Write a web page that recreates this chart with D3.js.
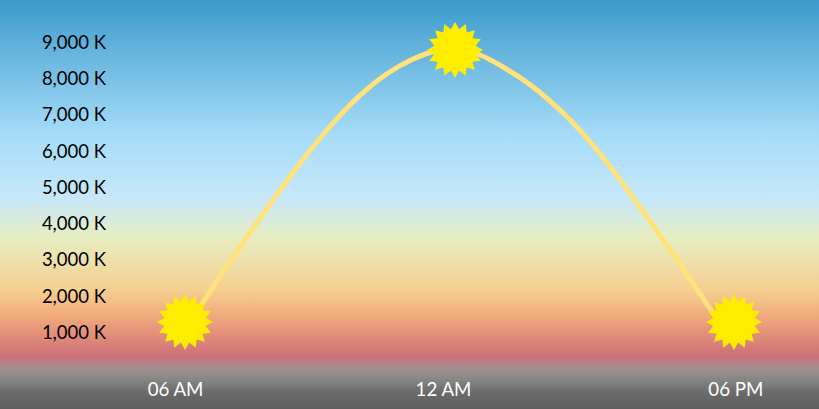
<!DOCTYPE html>
<html><head><meta charset="utf-8">
<script src="https://cdn.jsdelivr.net/npm/d3@7/dist/d3.min.js"></script>
<style>html,body{margin:0;padding:0;background:#fff}svg{display:block}text{font-family:Lato,sans-serif}</style>
</head><body><svg id="c" width="819" height="409"></svg>
<script>
const yTicks=[1000,2000,3000,4000,5000,6000,7000,8000,9000];
const xTickHours=[5.79,11.744,18.04];
const xTickLabels=["06 AM","12 AM","06 PM"];
const curveHours=[6,6.33,6.84,7.44,8.07,8.71,9.29,9.89,10.49,11.0,11.51,12,12.54,13.03,13.55,14.04,14.54,14.97,15.4,15.91,16.41,16.99,17.48,17.91];
const curveTemps=[1077,1684,2637,3733,4832,5897,6759,7526,8122,8490,8730,8821,8642,8310,7880,7372,6764,6146,5455,4561,3658,2579,1645,828];
const sunHours=[6,12,18];
const sunTemps=[1270,8780,1270];
const bgOffsets=[0,0.1,0.33,0.49,0.58,0.71,0.78,0.872,0.9,0.93,0.96,1];
const bgColors=["#3a9bcb","#5dafd9","#a6dcf9","#c8e8f8","#e6eec2","#f6cf90","#f0a57c","#cd6f78","#a48f90","#858585","#6a6a6a","#5d5d5d"];
const svg=d3.select("#c");
const x=d3.scaleLinear().domain([6,12,18]).range([185,455,734]);
const y=d3.scaleLinear().domain([0,9000]).range([368,42]);
const g=svg.append("defs").append("linearGradient").attr("id","bg").attr("x1",0).attr("y1",0).attr("x2",0).attr("y2",1);
bgOffsets.forEach((o,i)=>g.append("stop").attr("offset",o).attr("stop-color",bgColors[i]));
svg.append("rect").attr("width",819).attr("height",409).attr("fill","url(#bg)");
svg.append("path").datum(curveHours.map((h,i)=>[h,curveTemps[i]]))
 .attr("fill","none").attr("stroke","#ffe27a").attr("stroke-width",5)
 .attr("d",d3.line().x(d=>x(d[0])).y(d=>y(d[1])).curve(d3.curveCatmullRom));
const star=d3.lineRadial().curve(d3.curveLinearClosed);
const pts=d3.range(32).map(i=>[i*Math.PI/16,i%2?21:28]);
svg.selectAll("path.sun").data(sunHours).join("path").attr("class","sun")
 .attr("d",star(pts)).attr("fill","#ffed00")
 .attr("transform",(d,i)=>`translate(${x(d)},${y(sunTemps[i])})`);
svg.selectAll("text.yl").data(yTicks).join("text").attr("class","yl")
 .attr("x",106).attr("y",d=>y(d)).attr("dy","0.38em").attr("text-anchor","end")
 .attr("font-size",18.5).attr("fill","#000").text(d=>d3.format(",")(d)+" K");
svg.selectAll("text.xl").data(xTickHours).join("text").attr("class","xl")
 .attr("x",d=>x(d)).attr("y",396).attr("text-anchor","middle")
 .attr("font-size",18.7).attr("fill","#fff").text((d,i)=>xTickLabels[i]);
</script></body></html>
